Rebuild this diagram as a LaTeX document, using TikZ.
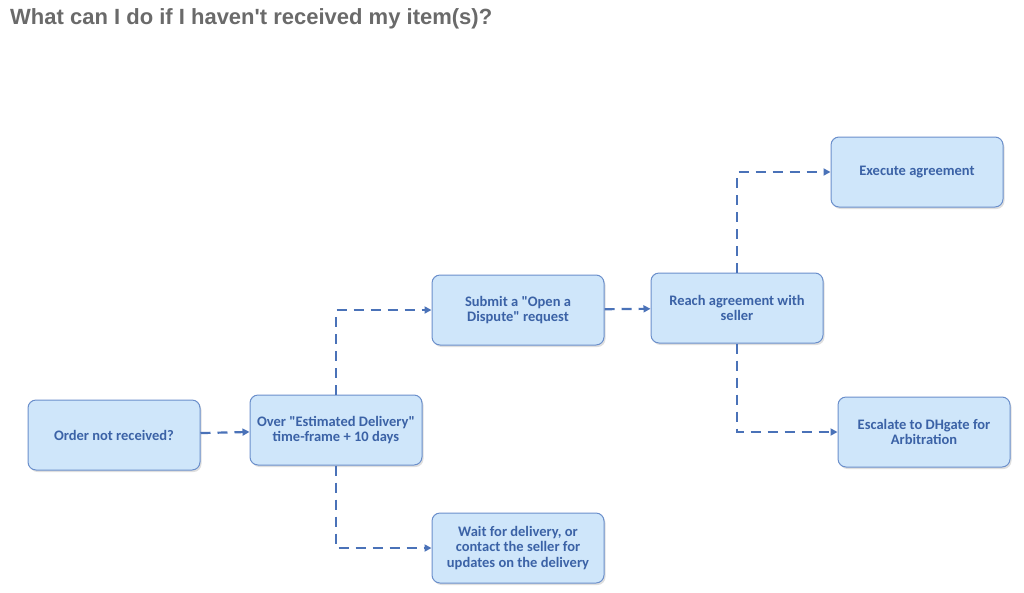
\documentclass[tikz,border=0pt]{standalone}
\usepackage{fontspec}
\setmainfont{Carlito}
\newfontfamily\titlefont{Liberation Sans}
\usetikzlibrary{arrows.meta,shadows,positioning}
\definecolor{boxfill}{HTML}{CFE6FA}
\definecolor{boxline}{HTML}{6B8FCB}
\definecolor{boxtext}{HTML}{3B62A6}
\definecolor{arrowblue}{HTML}{4A72B8}
\definecolor{titlegray}{HTML}{6A6A6A}
\newcommand{\qd}{\textquotedbl}
\tikzset{
  stepbox/.style={draw=boxline, line width=1pt, fill=boxfill, rounded corners=8pt,
    minimum width=172pt, minimum height=70pt, align=center, text=boxtext,
    font=\bfseries\fontsize{14.5}{15.5}\selectfont,
    drop shadow={opacity=0.25, shadow xshift=1.5pt, shadow yshift=-2pt}},
  flow/.style={arrowblue, line width=2.2pt, dash pattern=on 10pt off 7pt,
    -{Triangle[length=7pt,width=7pt]}}
}

\begin{document}
\begin{tikzpicture}[x=1pt,y=-1pt]
    \useasboundingbox (0,0) rectangle (1024,592);

    \node[anchor=north west, text=titlegray, font=\titlefont\bfseries\fontsize{22}{24}\selectfont, inner sep=0pt]
      (title) at (10,8) {What can I do if I haven't received my item(s)?};

    \node[stepbox] (order) at (114,435) {Order not received?};
    \node[stepbox] (over) at (336,430) {Over \qd Estimated Delivery\qd\\time-frame + 10 days};
    \node[stepbox] (dispute) at (518,310) {Submit a \qd Open a\\Dispute\qd{} request};
    \node[stepbox] (wait) at (518,548) {Wait for delivery, or\\contact the seller for\\updates on the delivery};
    \node[stepbox] (agree) at (737,308) {Reach agreement with\\seller};
    \node[stepbox] (exec) at (917,172) {Execute agreement};
    \node[stepbox] (escal) at (924,432) {Escalate to DHgate for\\Arbitration};

    \draw[flow] (order) -- (over);
    \draw[flow] (over.north) |- (dispute.west);
    \draw[flow] (over.south) |- (wait.west);
    \draw[flow] (dispute) -- (agree);
    \draw[flow] (agree.north) |- (exec.west);
    \draw[flow] (agree.south) |- (escal.west);
\end{tikzpicture}
\end{document}
